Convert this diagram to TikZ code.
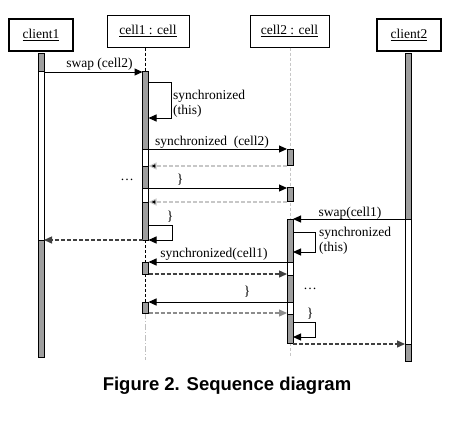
\documentclass[tikz,border=0pt]{standalone}
\usepackage{fontspec}
\setmainfont{Liberation Serif}
\newfontfamily\capfont{Liberation Sans}
\usetikzlibrary{arrows.meta}
\tikzset{
  objthin/.style={draw=black, line width=0.9pt, fill=white, minimum height=32pt, inner sep=0pt, font=\fontsize{13.5}{15}\selectfont},
  objthick/.style={draw=black, line width=2.6pt, fill=white, minimum width=64pt, minimum height=32pt, inner sep=0pt, font=\fontsize{13.5}{15}\selectfont},
  actg/.style={draw=black, line width=0.8pt, fill=black!38},
  actw/.style={draw=black, line width=0.8pt, fill=white},
  msg/.style={draw=black, line width=1pt, -{Triangle[length=8pt,width=7pt]}},
  retdark/.style={draw=black!75, line width=1.4pt, dash pattern=on 4pt off 2pt, -{Triangle[length=8pt,width=7pt]}},
  retmid/.style={draw=black!45, line width=1.2pt, dash pattern=on 4pt off 2pt, -{Triangle[length=8pt,width=7pt]}},
  retlight/.style={draw=black!22, line width=1.1pt, dash pattern=on 4pt off 2pt, -{Triangle[length=8pt,width=7pt,fill=black]}},
  lbl/.style={inner sep=0pt, font=\fontsize{13.5}{15}\selectfont},
  lbll/.style={inner sep=0pt, anchor=west, align=left, font=\fontsize{13.5}{15}\selectfont},
}
\begin{document}
\begin{tikzpicture}[x=1pt,y=-1pt]
\useasboundingbox[fill=white] (0,0) rectangle (474,424);

% objects
\node[objthick] (client1) at (41,35) {\underline{client1}};
\node[objthin, minimum width=82pt] (cell1) at (148,31) {\underline{cell1 : cell}};
\node[objthin, minimum width=79pt] (cell2) at (289.5,31) {\underline{cell2 : cell}};
\node[objthick] (client2) at (409,35) {\underline{client2}};

% lifelines
\coordinate (c1top) at (145.5,47.5);
\coordinate (c1a) at (145.5,71);
\draw[black, line width=1.4pt, dash pattern=on 3pt off 2pt] (c1top) -- (c1a);
\coordinate (c1b) at (145.5,240);
\coordinate (c1c) at (145.5,262);
\draw[black, line width=1.4pt, dash pattern=on 3pt off 2pt] (c1b) -- (c1c);
\coordinate (c1d) at (145.5,274);
\coordinate (c1e) at (145.5,302);
\draw[black, line width=1.4pt, dash pattern=on 3pt off 2pt] (c1d) -- (c1e);
\coordinate (c1f) at (145.5,313);
\coordinate (c1g) at (145.5,360);
\draw[black!25, line width=0.8pt, dash pattern=on 6pt off 2pt on 1pt off 2pt] (c1f) -- (c1g);
\coordinate (c2top) at (290,47.5);
\coordinate (c2bot) at (290,356);
\draw[black!22, line width=0.9pt, dash pattern=on 3pt off 2pt] (c2top) -- (c2bot);

% client1 activation
\draw[actg] (38,53) rectangle (44,71);
\draw[actw] (38,71) rectangle (44,240);
\draw[actg] (38,240) rectangle (44,357);
% cell1 activation
\draw[actg] (142.5,71) rectangle (148.5,149);
\draw[actw] (142.5,149) rectangle (148.5,166);
\draw[actg] (142.5,166) rectangle (148.5,188);
\draw[actw] (142.5,188) rectangle (148.5,202);
\draw[actg] (142.5,202) rectangle (148.5,240);
\draw[actg] (142.5,262) rectangle (148.5,274);
\draw[actg] (142.5,302) rectangle (148.5,313);
% cell2 activation
\draw[actg] (287,149) rectangle (293,165);
\draw[actg] (287,187) rectangle (293,201);
\draw[actg] (287,219) rectangle (293,262);
\draw[actw] (287,262) rectangle (293,275);
\draw[actg] (287,275) rectangle (293,302);
\draw[actw] (287,302) rectangle (293,314);
\draw[actg] (287,314) rectangle (293,343);
% client2 activation
\draw[actg] (405,53) rectangle (411,219);
\draw[actw] (405,219) rectangle (411,344);
\draw[actg] (405,344) rectangle (411,361);

% message endpoints
\coordinate (a1) at (44,72);   \coordinate (b1) at (142.5,72);
\coordinate (s1a) at (148.5,82); \coordinate (s1b) at (171,82); \coordinate (s1c) at (171,118); \coordinate (s1d) at (148.5,118);
\coordinate (a2) at (148.5,149); \coordinate (b2) at (287,149);
\coordinate (a3) at (287,166);   \coordinate (b3) at (148.5,166);
\coordinate (a4) at (148.5,188); \coordinate (b4) at (287,188);
\coordinate (a5) at (287,202);   \coordinate (b5) at (148.5,202);
\coordinate (s2a) at (148.5,225); \coordinate (s2b) at (172,225); \coordinate (s2c) at (172,240); \coordinate (s2d) at (148.5,240);
\coordinate (a6) at (142.5,240); \coordinate (b6) at (44,240);
\coordinate (a7) at (405,219);   \coordinate (b7) at (293,219);
\coordinate (s3a) at (293,232); \coordinate (s3b) at (315,232); \coordinate (s3c) at (315,252); \coordinate (s3d) at (293,252);
\coordinate (a8) at (287,262);   \coordinate (b8) at (148.5,262);
\coordinate (a9) at (148.5,274); \coordinate (b9) at (287,274);
\coordinate (a10) at (287,302);  \coordinate (b10) at (148.5,302);
\coordinate (a11) at (148.5,313); \coordinate (b11) at (287,313);
\coordinate (s4a) at (293,322); \coordinate (s4b) at (315,322); \coordinate (s4c) at (315,337); \coordinate (s4d) at (293,337);
\coordinate (a12) at (293,344);  \coordinate (b12) at (405,344);

% messages
\draw[msg] (a1) -- (b1);
\draw[msg] (s1a) -- (s1b) -- (s1c) -- (s1d);
\draw[msg] (a2) -- (b2);
\draw[retlight] (a3) -- (b3);
\draw[msg] (a4) -- (b4);
\draw[retlight] (a5) -- (b5);
\draw[msg] (s2a) -- (s2b) -- (s2c) -- (s2d);
\draw[retdark] (a6) -- (b6);
\draw[msg] (a7) -- (b7);
\draw[msg] (s3a) -- (s3b) -- (s3c) -- (s3d);
\draw[msg] (a8) -- (b8);
\draw[retdark] (a9) -- (b9);
\draw[msg] (a10) -- (b10);
\draw[retmid] (a11) -- (b11);
\draw[msg] (s4a) -- (s4b) -- (s4c) -- (s4d);
\draw[retdark] (a12) -- (b12);

% labels
\node[lbl] (t1) at (99.5,64) {swap (cell2)};
\node[lbll] (t2) at (173,104) {synchronized\\(this)};
\node[lbl] (t3) at (212,142) {synchronized\ \ (cell2)};
\node[lbl] (t4) at (127,180) {\dots};
\node[lbl] (t5) at (180,180) {\}};
\node[lbl] (t6) at (170,217) {\}};
\node[lbl] (t7) at (350,213) {swap(cell1)};
\node[lbll] (t8) at (319,240.5) {synchronized\\(this)};
\node[lbl] (t9) at (214,254) {synchronized(cell1)};
\node[lbl] (t10) at (247,292) {\}};
\node[lbl] (t11) at (310,289) {\dots};
\node[lbl] (t12) at (310,314) {\}};

% caption
\node[inner sep=0pt, font=\capfont\bfseries\fontsize{18.5}{22}\selectfont] (cap) at (227,386) {Figure 2. Sequence diagram};
\end{tikzpicture}
\end{document}
